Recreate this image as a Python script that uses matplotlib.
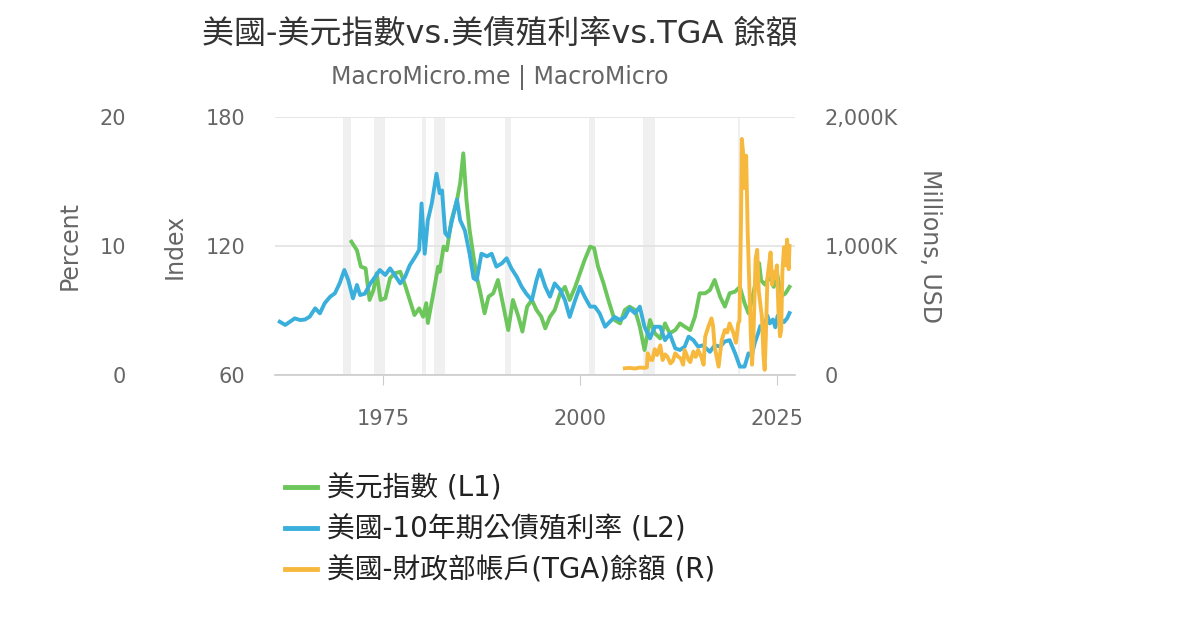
import matplotlib.pyplot as plt
from matplotlib.lines import Line2D

plt.rcParams['font.family'] = ['DejaVu Sans']
cjk = ['DejaVu Sans', 'Noto Sans CJK TC']

# US dollar index (L1)
dxy_year = [1971.0, 1971.7, 1972.2, 1972.8, 1973.3, 1973.8, 1974.2, 1974.7, 1975.3, 1975.9,
            1976.5, 1977.2, 1977.8, 1978.4, 1979.0, 1979.6, 1980.1, 1980.5, 1980.7, 1981.4,
            1982.0, 1982.2, 1982.7, 1983.1, 1983.7, 1984.4, 1984.8, 1985.2, 1985.6, 1986.0,
            1986.5, 1986.9, 1987.3, 1987.9, 1988.4, 1989.0, 1989.6, 1990.3, 1990.9, 1991.5,
            1992.2, 1992.7, 1993.3, 1993.9, 1994.5, 1995.1, 1995.6, 1996.2, 1996.8, 1997.5,
            1998.1, 1998.7, 1999.4, 2000.0, 2000.6, 2001.3, 2001.8, 2002.3, 2003.0, 2003.6,
            2004.4, 2005.1, 2005.7, 2006.3, 2007.0, 2007.6, 2008.2, 2008.9, 2009.5, 2010.2,
            2010.8, 2011.4, 2012.1, 2012.7, 2013.3, 2014.0, 2014.6, 2015.2, 2015.9, 2016.5,
            2017.1, 2017.8, 2018.4, 2019.0, 2019.7, 2020.3, 2020.9, 2021.4, 2021.9, 2022.4,
            2022.75, 2023.0, 2023.5, 2023.9, 2024.3, 2024.6, 2025.0, 2025.4, 2025.7, 2026.1,
            2026.6]
dxy_value = [122, 118, 110.4, 109.6, 94.9, 99.5, 107.3, 94.9, 95.7, 105,
             107.3, 108, 101.9, 94.9, 87.9, 91, 87.1, 93.4, 84.2, 98,
             110.4, 108, 119.7, 118, 132, 141.4, 149.2, 163.1, 141.4, 127.4,
             115, 105.7, 99.5, 88.7, 96.4, 98, 104.2, 91.8, 80.9, 94.9,
             87.1, 80.2, 91.8, 94.9, 90.2, 87.1, 81.7, 87.1, 90.2, 98,
             101, 94.9, 101, 107.3, 113.5, 119.7, 119, 110.4, 102.6, 95,
             85.6, 84, 90.2, 91.8, 90.2, 82.5, 71.6, 85.6, 79.4, 77,
             84, 79.4, 80.9, 84, 82.5, 80.9, 87.1, 98, 98, 99.5,
             104.2, 96.4, 91.8, 98, 98.8, 101, 93.4, 88.7, 96, 105,
             112, 104, 102, 105, 104, 101, 108, 99, 97, 98,
             101]

# US 10Y treasury yield (L2)
ust_year = [1961.9, 1962.6, 1963.2, 1963.8, 1964.5, 1965.1, 1965.7, 1966.4, 1967.0, 1967.6,
            1968.3, 1968.9, 1969.5, 1970.1, 1970.6, 1971.2, 1971.7, 1972.1, 1972.7, 1973.4,
            1974.0, 1974.6, 1975.3, 1975.9, 1976.5, 1977.2, 1977.8, 1978.4, 1979.1, 1979.6,
            1979.9, 1980.3, 1980.7, 1981.2, 1981.8, 1982.2, 1982.5, 1982.9, 1983.3, 1983.7,
            1984.4, 1984.8, 1985.4, 1986.0, 1986.5, 1986.9, 1987.5, 1988.2, 1988.8, 1989.4,
            1990.1, 1990.7, 1991.3, 1992.0, 1992.6, 1993.2, 1993.9, 1994.5, 1994.9, 1995.6,
            1996.2, 1996.8, 1997.5, 1998.1, 1998.7, 1999.4, 2000.0, 2000.6, 2001.3, 2001.9,
            2002.5, 2003.2, 2003.6, 2004.4, 2005.1, 2005.7, 2006.3, 2007.0, 2007.6, 2008.2,
            2008.9, 2009.5, 2010.2, 2010.8, 2011.4, 2012.1, 2012.7, 2013.3, 2013.8, 2014.4,
            2015.0, 2015.6, 2016.5, 2017.1, 2017.8, 2018.4, 2019.0, 2019.7, 2020.3, 2020.9,
            2021.4, 2021.8, 2022.2, 2022.6, 2022.9, 2023.3, 2023.8, 2024.1, 2024.5, 2024.8,
            2025.1, 2025.5, 2025.9, 2026.3, 2026.6]
ust_value = [4.13, 3.88, 4.13, 4.39, 4.26, 4.3, 4.52, 5.17, 4.78, 5.56,
             6.07, 6.33, 7.1, 8.14, 7.36, 5.94, 6.98, 6.2, 6.3, 7.1,
             7.6, 8.14, 7.75, 8.27, 7.75, 7.1, 7.6, 8.5, 9.17, 9.7,
             13.3, 9.4, 12.0, 13.3, 15.6, 14.1, 14.3, 11.0, 10.7, 11.8,
             13.6, 12.0, 11.2, 9.4, 7.5, 7.36, 9.4, 9.2, 9.4, 8.4,
             8.66, 9.05, 8.27, 7.6, 6.85, 6.3, 5.8, 7.36, 8.14, 6.85,
             6.07, 7.1, 6.6, 5.8, 4.5, 5.8, 6.85, 6.07, 5.3, 5.3,
             4.78, 3.74, 4.0, 4.5, 4.26, 4.5, 5.17, 4.78, 5.3, 3.74,
             2.84, 3.74, 3.74, 2.7, 3.2, 2.07, 1.94, 2.2, 2.97, 2.7,
             2.2, 2.3, 1.8, 2.3, 2.2, 2.6, 2.7, 1.68, 0.65, 0.65,
             1.68, 1.5, 2.5, 3.2, 3.8, 3.5, 4.6, 4.0, 4.3, 3.7,
             4.6, 4.3, 4.1, 4.4, 4.8]

# TGA balance, millions USD (R)
tga_year = [2005.7, 2006.3, 2007.0, 2007.6, 2008.2, 2008.5, 2008.6, 2008.9, 2009.2, 2009.5,
            2009.8, 2010.2, 2010.5, 2010.8, 2011.1, 2011.5, 2011.8, 2012.1, 2012.5, 2012.8,
            2013.1, 2013.3, 2013.8, 2014.0, 2014.4, 2014.7, 2015.0, 2015.4, 2015.7, 2015.9,
            2016.3, 2016.7, 2016.9, 2017.1, 2017.6, 2018.0, 2018.4, 2018.7, 2019.0, 2019.5,
            2019.8, 2020.1, 2020.25, 2020.45, 2020.55, 2020.75, 2020.85, 2020.95, 2021.1, 2021.3,
            2021.5, 2021.7, 2021.85, 2022.0, 2022.3, 2022.5, 2022.7, 2022.9, 2023.1, 2023.3,
            2023.45, 2023.6, 2023.8, 2024.0, 2024.2, 2024.4, 2024.6, 2024.8, 2025.0, 2025.2,
            2025.4, 2025.55, 2025.7, 2025.9, 2026.1, 2026.3, 2026.5, 2026.6]
tga_value = [52, 55, 50, 58, 55, 60, 168, 120, 116, 200,
             155, 230, 116, 160, 142, 90, 110, 168, 140, 129,
             80, 194, 116, 100, 181, 140, 194, 142, 80, 297,
             374, 439, 380, 220, 65, 271, 349, 330, 400, 323,
             250, 400, 420, 1200, 1830, 1700, 1450, 1550, 1700, 1100,
             700, 300, 80, 250, 900, 970, 650, 550, 450, 150,
             40, 300, 750, 850, 950, 700, 800, 750, 850, 500,
             300, 350, 800, 990, 850, 1050, 820, 1000]

# NBER recessions (shaded)
recessions = [(1969.9, 1970.9), (1973.9, 1975.2), (1980.0, 1980.5), (1981.5, 1982.9),
              (1990.5, 1991.2), (2001.2, 2001.9), (2007.95, 2009.5), (2020.1, 2020.3)]

green = '#6cc65c'
blue = '#3aafdc'
orange = '#f6b93e'
grey_txt = '#666666'

fig = plt.figure(figsize=(12, 6.3), dpi=100)
ax = fig.add_axes([275 / 1200, 255 / 630, 520 / 1200, 258 / 630])

for a, b in recessions:
    ax.axvspan(a, b, color='#f0f0f0', lw=0, zorder=0)

ax.plot(dxy_year, dxy_value, color=green, lw=2.8, zorder=3)
ax.set_xlim(1961.3, 2027.3)
ax.set_ylim(60, 180)
ax.set_yticks([60, 120, 180])
ax.grid(axis='y', color='#e2e2e2', lw=1.2)
ax.set_axisbelow(True)
ax.set_xticks([1975, 2000, 2025])
for s in ['top', 'right', 'left']:
    ax.spines[s].set_visible(False)
ax.spines['bottom'].set_color('#cccccc')
ax.spines['bottom'].set_linewidth(1.2)
ax.tick_params(axis='x', length=7, color='#cccccc', pad=17.5, labelsize=15, labelcolor=grey_txt)
ax.tick_params(axis='y', length=0, pad=21.5, labelsize=15, labelcolor=grey_txt)
ax.set_ylabel('Index', fontsize=17, color=grey_txt)
ax.yaxis.set_label_coords(-0.169, 0.5)

ax_pct = ax.twinx()
ax_pct.plot(ust_year, ust_value, color=blue, lw=2.8)
ax_pct.set_ylim(0, 20)
ax_pct.set_yticks([0, 10, 20])
ax_pct.yaxis.tick_left()
ax_pct.yaxis.set_label_position('left')
ax_pct.spines['left'].set_position(('outward', 86))
for s in ax_pct.spines.values():
    s.set_visible(False)
ax_pct.tick_params(axis='y', length=0, pad=21.5, labelsize=15, labelcolor=grey_txt)
ax_pct.set_ylabel('Percent', fontsize=17, color=grey_txt)
ax_pct.yaxis.set_label_coords(-0.371, 0.5)

ax_tga = ax.twinx()
ax_tga.plot(tga_year, tga_value, color=orange, lw=2.8)
ax_tga.set_ylim(0, 2000)
ax_tga.set_yticks([0, 1000, 2000])
ax_tga.set_yticklabels(['0', '1,000K', '2,000K'])
for s in ax_tga.spines.values():
    s.set_visible(False)
ax_tga.tick_params(axis='y', length=0, pad=21.5, labelsize=15, labelcolor=grey_txt)
ax_tga.set_ylabel('Millions, USD', fontsize=17, color=grey_txt, rotation=270, va='center')
ax_tga.yaxis.set_label_coords(1.26, 0.5)

fig.text(500 / 1200, 1 - 34 / 630, '美國-美元指數vs.美債殖利率vs.TGA 餘額', family=cjk,
         fontsize=23, color='#333333', ha='center', va='center')
fig.text(500 / 1200, 1 - 78 / 630, 'MacroMicro.me | MacroMicro', fontsize=17,
         color=grey_txt, ha='center', va='center')

handles = [Line2D([], [], color=green, lw=3.5),
           Line2D([], [], color=blue, lw=3.5),
           Line2D([], [], color=orange, lw=3.5)]
labels = ['美元指數 (L1)', '美國-10年期公債殖利率 (L2)', '美國-財政部帳戶(TGA)餘額 (R)']
fig.legend(handles, labels, loc='upper left', bbox_to_anchor=(260 / 1200, 1 - 450 / 630),
           frameon=False, prop={'family': cjk, 'size': 20}, handlelength=1.15,
           handletextpad=0.36, labelspacing=0.46, labelcolor='#222222')

plt.savefig('out.png', dpi=100)
plt.close()
